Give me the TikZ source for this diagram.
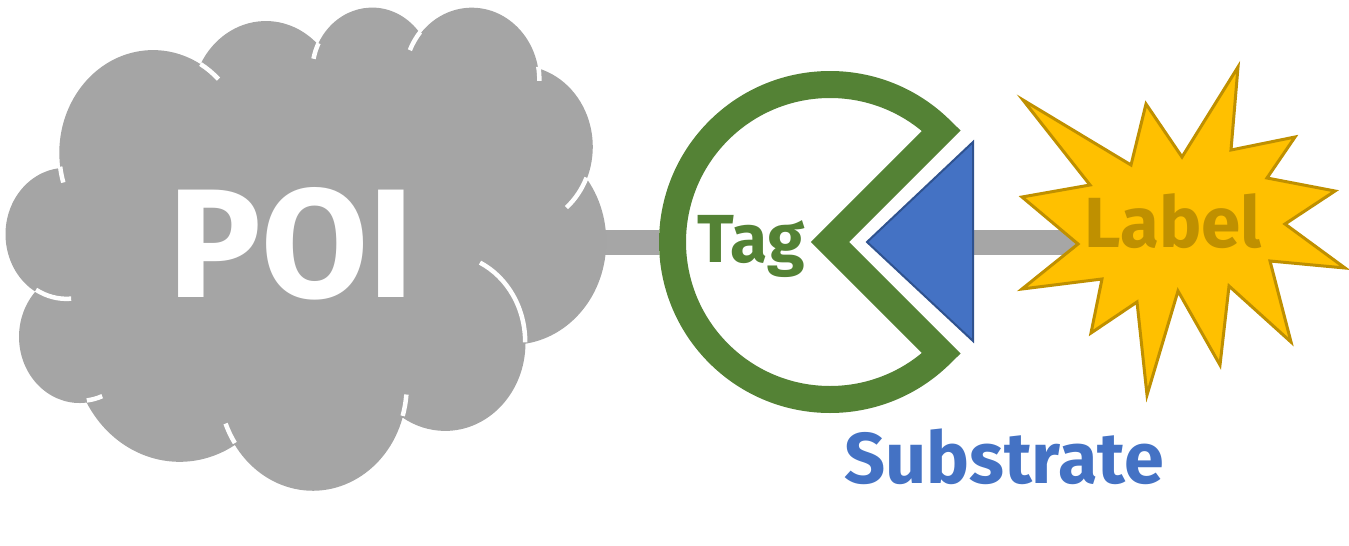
\documentclass[tikz,border=0pt]{standalone}
\usepackage{fontspec}
\setmainfont{Fira Sans}
\definecolor{cloudgray}{HTML}{A5A5A5}
\definecolor{linegray}{HTML}{A6A6A6}
\definecolor{taggreen}{HTML}{548235}
\definecolor{subblue}{HTML}{4472C4}
\definecolor{subborder}{HTML}{2F528F}
\definecolor{labelyellow}{HTML}{FFC000}
\definecolor{labelgold}{HTML}{BF9000}
\pgfmathdeclarefunction{cloudpa}{3}{\pgfmathparse{atan2((#1)*sin(#3),(#2)*cos(#3))}}
\pgfmathdeclarefunction{cloudpd}{4}{%
  \pgfmathparse{atan2((#1)*sin(#3),(#2)*cos(#3))}\let\cTa\pgfmathresult
  \pgfmathparse{atan2((#1)*sin((#3)+(#4)),(#2)*cos((#3)+(#4)))}\let\cTb\pgfmathresult
  \pgfmathparse{\cTb-\cTa}\let\cDd\pgfmathresult
  \pgfmathparse{\cDd+360*round(((#4)-\cDd)/360)}}
\tikzset{
  ca/.style n args={4}{x radius=#1, y radius=#2, start angle={cloudpa(#1,#2,#3)}, delta angle={cloudpd(#1,#2,#3,#4)}},
  conn/.style={draw=linegray, line width=25pt},
  cloudfill/.style={fill=cloudgray},
  cloudline/.style={draw=white, line width=4.5pt},
  pacstyle/.style={draw=taggreen, fill=white, line width=27pt, line join=miter},
  substyle/.style={draw=subborder, fill=subblue, line width=2pt, line join=miter},
  starstyle/.style={draw=labelgold, fill=labelyellow, line width=3pt, line join=miter, miter limit=20},
  txt/.style={inner sep=0pt, anchor=base, font=\bfseries},
}
\begin{document}
\begin{tikzpicture}[x=1pt,y=-1pt]
\useasboundingbox (0,0) rectangle (1349,546);
% anchor points
\coordinate (cloudE) at (585,242);
\node[circle, minimum size=342pt, inner sep=0pt] (pac) at (830,242) {};
\coordinate (tA) at (867,242);
\coordinate (tB) at (973,142);
\coordinate (tC) at (973,341);
\coordinate (triE) at (972,242);
\coordinate (starC) at (1180,242);
% connectors
\draw[conn] (cloudE) -- (pac.west);
\draw[conn] (triE) -- (starC);
% cloud
\begin{scope}[shift={(6,6)}, x={(0.138889pt,0pt)}, y={(0pt,-0.111806pt)}]
\fill[cloudfill] (390,1437)
  arc[ca={675.3}{919.0}{-190.48748}{123.78053}]
  arc[ca={533.3}{726.7}{-144.10238}{89.94523}]
  arc[ca={436.5}{594.5}{-145.80792}{99.72302}]
  arc[ca={485.7}{659.5}{-130.98607}{117.24173}]
  arc[ca={533.3}{727.3}{-78.70888}{109.02692}]
  arc[ca={677.5}{922.0}{-46.26725}{130.269}]
  arc[ca={578.5}{786.7}{0.62502}{114.03333}]
  arc[ca={675.2}{921.5}{22.4516}{115.17255}]
  arc[ca={772.0}{1054.3}{66.24263}{75.71102}]
  arc[ca={436.0}{591.8}{-274.94208}{146.73557}]
  arc[ca={434.5}{594.5}{-246.8285}{152.51885}]
  -- cycle;
\draw[cloudline] (469.3,2617.7) arc[ca={434.5}{594.5}{86.742}{26.4295}]
  (692.8,3489.9) arc[ca={436.0}{591.8}{73.61047}{11.44747}]
  (1647.8,3909.0) arc[ca={675.2}{921.5}{137.62415}{14.0811}]
  (2882.7,3475.1) arc[ca={675.2}{921.5}{6.45327}{15.99835}]
  (3412.9,2295.4) arc[ca={578.5}{786.7}{-70.29235}{70.91737}]
  (4179.8,1535.4) arc[ca={533.3}{727.3}{30.31803}{27.7515}]
  (3832.4,542.6) arc[ca={485.7}{659.5}{-13.74433}{14.8589}]
  (2907.8,395.2) arc[ca={485.7}{659.5}{-149.18145}{18.19537}]
  (2214.1,472.0) arc[ca={436.5}{594.5}{-163.49427}{17.68635}]
  (1400.0,519.2) arc[ca={675.3}{919.0}{-66.70695}{12.31935}]
  (412.7,1578.9) arc[ca={675.3}{919.0}{157.65435}{11.85817}];
\end{scope}
\node[txt, text=white, font=\bfseries\fontsize{155}{160}\selectfont] (poi) at (291,297) {POI};
% pacman (tag)
\draw[pacstyle] (pac.center) -- ++(45:157.5) arc[start angle=45, end angle=315, radius=157.5] -- cycle;
\node[txt, text=taggreen, font=\bfseries\fontsize{68}{72}\selectfont] (tag) at (751,262) {Tag};
% substrate triangle
\draw[substyle] (tA) -- (tB) -- (tC) -- cycle;
\node[txt, text=subblue, font=\bfseries\fontsize{72}{76}\selectfont] (substrate) at (1004,483) {Substrate};
% label star
\draw[starstyle] (1238,67) -- (1231,150) -- (1295,137) -- (1267,178) -- (1335,191) -- (1285,224)
  -- (1345,268) -- (1270,261) -- (1291,342) -- (1229,286) -- (1220,365) -- (1178,291)
  -- (1147,395) -- (1137,302) -- (1091,333) -- (1102,279) -- (1022,289) -- (1078,244)
  -- (1022,197) -- (1090,185) -- (1023,100) -- (1131,165) -- (1146,104) -- (1182,157) -- cycle;
\node[txt, text=labelgold, font=\bfseries\fontsize{71}{75}\selectfont] (label) at (1173,247) {Label};
\end{tikzpicture}
\end{document}
